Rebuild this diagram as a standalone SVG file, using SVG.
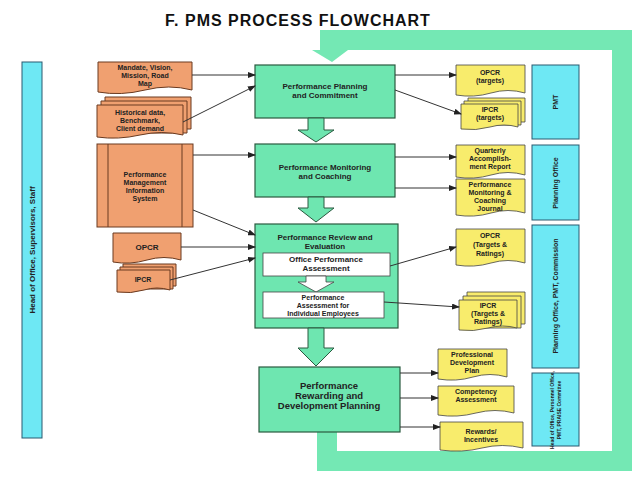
<svg xmlns="http://www.w3.org/2000/svg" width="638" height="478" viewBox="0 0 638 478">
<defs>
<style>
text{font-family:"Liberation Sans",Arial,sans-serif;font-weight:bold;fill:#222;text-anchor:middle}
.g{fill:#6ee6b0;stroke:#2a5a40;stroke-width:1.2}
.o{fill:#f0a070;stroke:#6a3a20;stroke-width:1}
.y{fill:#f8ec6c;stroke:#444;stroke-width:0.8}
.c{fill:#6ee8f4;stroke:#2a5a70;stroke-width:1}
.w{fill:#fff;stroke:#444;stroke-width:0.8}
.ha{fill:#6ee6b0;stroke:#2a5a40;stroke-width:1}
.t7{font-size:7px}.t8{font-size:8px}.t9{font-size:9.5px}
#conn line{stroke:#333;stroke-width:1;marker-end:url(#ah)}
</style>
<marker id="ah" markerWidth="8" markerHeight="6" refX="7" refY="3" orient="auto" markerUnits="userSpaceOnUse"><path d="M0 0L8 3L0 6z" fill="#222"/></marker>
</defs>
<rect width="638" height="478" fill="#fff"/>
<text x="298" y="26" style="font-size:16px;fill:#111;letter-spacing:1px">F.  PMS PROCESS FLOWCHART</text>
<g id="loop">
<path d="M317 432 V471 H632 V30 H320 V50 H612 V451 H337 V432 Z" fill="#74e8b4"/>
<path d="M320 50 H312 L332 62 L348 50 H340 V36 H320 Z" fill="#74e8b4"/>
</g>
<g id="staff"><rect class="c" x="22" y="62" width="20" height="376"/><text class="t8" transform="translate(35 250) rotate(-90)">Head of Office, Supervisors, Staff</text></g>
<g id="n-mandate"><path class="o" d="M98 62h94v28q-23 -6 -47 0t-47 2z"/><text class="t7" x="145" y="70">Mandate, Vision,</text><text class="t7" x="145" y="78">Mission, Road</text><text class="t7" x="145" y="86">Map</text></g>
<g id="n-hist"><path class="o" d="M105 97h86v32h-86z"/><path class="o" d="M101 101h86v32h-86z"/><path class="o" d="M97 105h86v30q-21 -5 -43 0t-43 2z"/><text class="t7" x="140" y="115">Historical data,</text><text class="t7" x="140" y="123">Benchmark,</text><text class="t7" x="140" y="131">Client demand</text></g>
<g id="n-pmis"><rect class="o" x="97" y="144" width="96" height="83"/><line x1="108" y1="144" x2="108" y2="227" stroke="#6a3a20"/><line x1="182" y1="144" x2="182" y2="227" stroke="#6a3a20"/><text class="t7" x="145" y="177">Performance</text><text class="t7" x="145" y="185">Management</text><text class="t7" x="145" y="193">Information</text><text class="t7" x="145" y="201">System</text></g>
<g id="n-opcr-in"><path class="o" d="M113 233h68v27q-17 -5 -34 0t-34 2z"/><text class="t8" x="147" y="250">OPCR</text></g>
<g id="n-ipcr-in"><path class="o" d="M123 264h53v22h-53z"/><path class="o" d="M120 267h53v22h-53z"/><path class="o" d="M117 270h53v20q-13 -4 -26 0t-27 2z"/><text class="t7" x="143" y="282">IPCR</text></g>
<g id="p-plan"><rect class="g" x="255" y="65" width="140" height="53"/><text class="t8" x="325" y="89">Performance Planning</text><text class="t8" x="325" y="98">and Commitment</text></g>
<g id="p-mon"><rect class="g" x="255" y="144" width="140" height="53"/><text class="t8" x="325" y="170">Performance Monitoring</text><text class="t8" x="325" y="179">and Coaching</text></g>
<g id="p-rev"><rect class="g" x="255" y="224" width="143" height="104"/><text class="t8" x="325" y="240">Performance Review and</text><text class="t8" x="325" y="249">Evaluation</text>
<rect class="w" x="263" y="253" width="127" height="23"/><text class="t8" x="326" y="262">Office Performance</text><text class="t8" x="326" y="271">Assessment</text>
<path class="w" d="M306 276h20v6h8l-18 10l-18 -10h8z"/>
<rect class="w" x="263" y="292" width="121" height="26"/><text class="t7" x="323" y="300">Performance</text><text class="t7" x="323" y="308">Assessment for</text><text class="t7" x="323" y="316">Individual Employees</text></g>
<g id="p-rew"><rect class="g" x="259" y="367" width="141" height="65"/><text class="t9" x="329" y="389">Performance</text><text class="t9" x="329" y="399">Rewarding and</text><text class="t9" x="329" y="409">Development Planning</text></g>
<g id="harrows">
<path class="ha" d="M308 118h16v12h10l-18 12l-18 -12h10z"/>
<path class="ha" d="M308 197h16v11h10l-18 14l-18 -14h10z"/>
<path class="ha" d="M308 328h16v20h10l-18 18l-18 -18h10z"/>
</g>
<g id="y-opcr-t"><path class="y" d="M456 65h69v28q-17 -5 -34 0t-35 2z"/><text class="t7" x="490" y="75">OPCR</text><text class="t7" x="490" y="83">(targets)</text></g>
<g id="y-ipcr-t"><path class="y" d="M468 98h57v24h-57z"/><path class="y" d="M464 101h57v24h-57z"/><path class="y" d="M461 104h57v23q-14 -4 -28 0t-29 2z"/><text class="t7" x="490" y="112">IPCR</text><text class="t7" x="490" y="120">(targets)</text></g>
<g id="y-qar"><path class="y" d="M456 145h69v30q-17 -5 -34 0t-35 2z"/><text class="t7" x="490" y="153">Quarterly</text><text class="t7" x="490" y="161">Accomplish-</text><text class="t7" x="490" y="169">ment Report</text></g>
<g id="y-journal"><path class="y" d="M456 179h69v34q-17 -5 -34 0t-35 2z"/><text class="t7" x="490" y="187">Performance</text><text class="t7" x="490" y="195">Monitoring &amp;</text><text class="t7" x="490" y="203">Coaching</text><text class="t7" x="490" y="211">Journal</text></g>
<g id="y-opcr-r"><path class="y" d="M456 229h69v34q-17 -5 -34 0t-35 2z"/><text class="t7" x="490" y="238">OPCR</text><text class="t7" x="490" y="247">(Targets &amp;</text><text class="t7" x="490" y="256">Ratings)</text></g>
<g id="y-ipcr-r"><path class="y" d="M467 292h58v32h-58z"/><path class="y" d="M463 296h58v32h-58z"/><path class="y" d="M459 300h58v28q-14 -4 -29 0t-29 2z"/><text class="t7" x="488" y="308">IPCR</text><text class="t7" x="488" y="316">(Targets &amp;</text><text class="t7" x="488" y="324">Ratings)</text></g>
<g id="y-pdp"><path class="y" d="M438 349h69v28q-17 -5 -34 0t-35 2z"/><text class="t7" x="472" y="357">Professional</text><text class="t7" x="472" y="365">Development</text><text class="t7" x="472" y="373">Plan</text></g>
<g id="y-comp"><path class="y" d="M438 386h76v27q-19 -5 -38 0t-38 2z"/><text class="t7" x="476" y="394">Competency</text><text class="t7" x="476" y="402">Assessment</text></g>
<g id="y-rew"><path class="y" d="M440 422h83v26q-21 -5 -41 0t-42 2z"/><text class="t7" x="481" y="434">Rewards/</text><text class="t7" x="481" y="442">Incentives</text></g>
<g id="c-pmt"><rect class="c" x="532" y="65" width="47" height="74"/><text class="t7" transform="translate(558 102) rotate(-90)">PMT</text></g>
<g id="c-po"><rect class="c" x="532" y="145" width="47" height="75"/><text class="t7" transform="translate(558 183) rotate(-90)">Planning Office</text></g>
<g id="c-popc"><rect class="c" x="532" y="225" width="47" height="143"/><text class="t7" transform="translate(558 296) rotate(-90)">Planning Office, PMT, Commission</text></g>
<g id="c-hop"><rect class="c" x="532" y="373" width="47" height="73"/><text style="font-size:5px" transform="translate(554 410) rotate(-90)">Head of Office, Personnel Office,</text><text style="font-size:5px" transform="translate(561 410) rotate(-90)">PMT, PRAISE Committee</text></g>
<g id="conn">
<line x1="192" y1="75" x2="255" y2="75"/>
<line x1="183" y1="122" x2="255" y2="86"/>
<line x1="193" y1="155" x2="255" y2="155"/>
<line x1="193" y1="210" x2="255" y2="235"/>
<line x1="181" y1="247" x2="255" y2="247"/>
<line x1="170" y1="280" x2="255" y2="258"/>
<line x1="395" y1="75" x2="456" y2="75"/>
<line x1="395" y1="90" x2="461" y2="114"/>
<line x1="395" y1="157" x2="456" y2="157"/>
<line x1="395" y1="188" x2="456" y2="188"/>
<line x1="390" y1="266" x2="456" y2="247"/>
<line x1="384" y1="302" x2="459" y2="307"/>
<line x1="400" y1="373" x2="438" y2="373"/>
<line x1="400" y1="398" x2="438" y2="398"/>
<line x1="400" y1="427" x2="440" y2="427"/>
</g>
</svg>
